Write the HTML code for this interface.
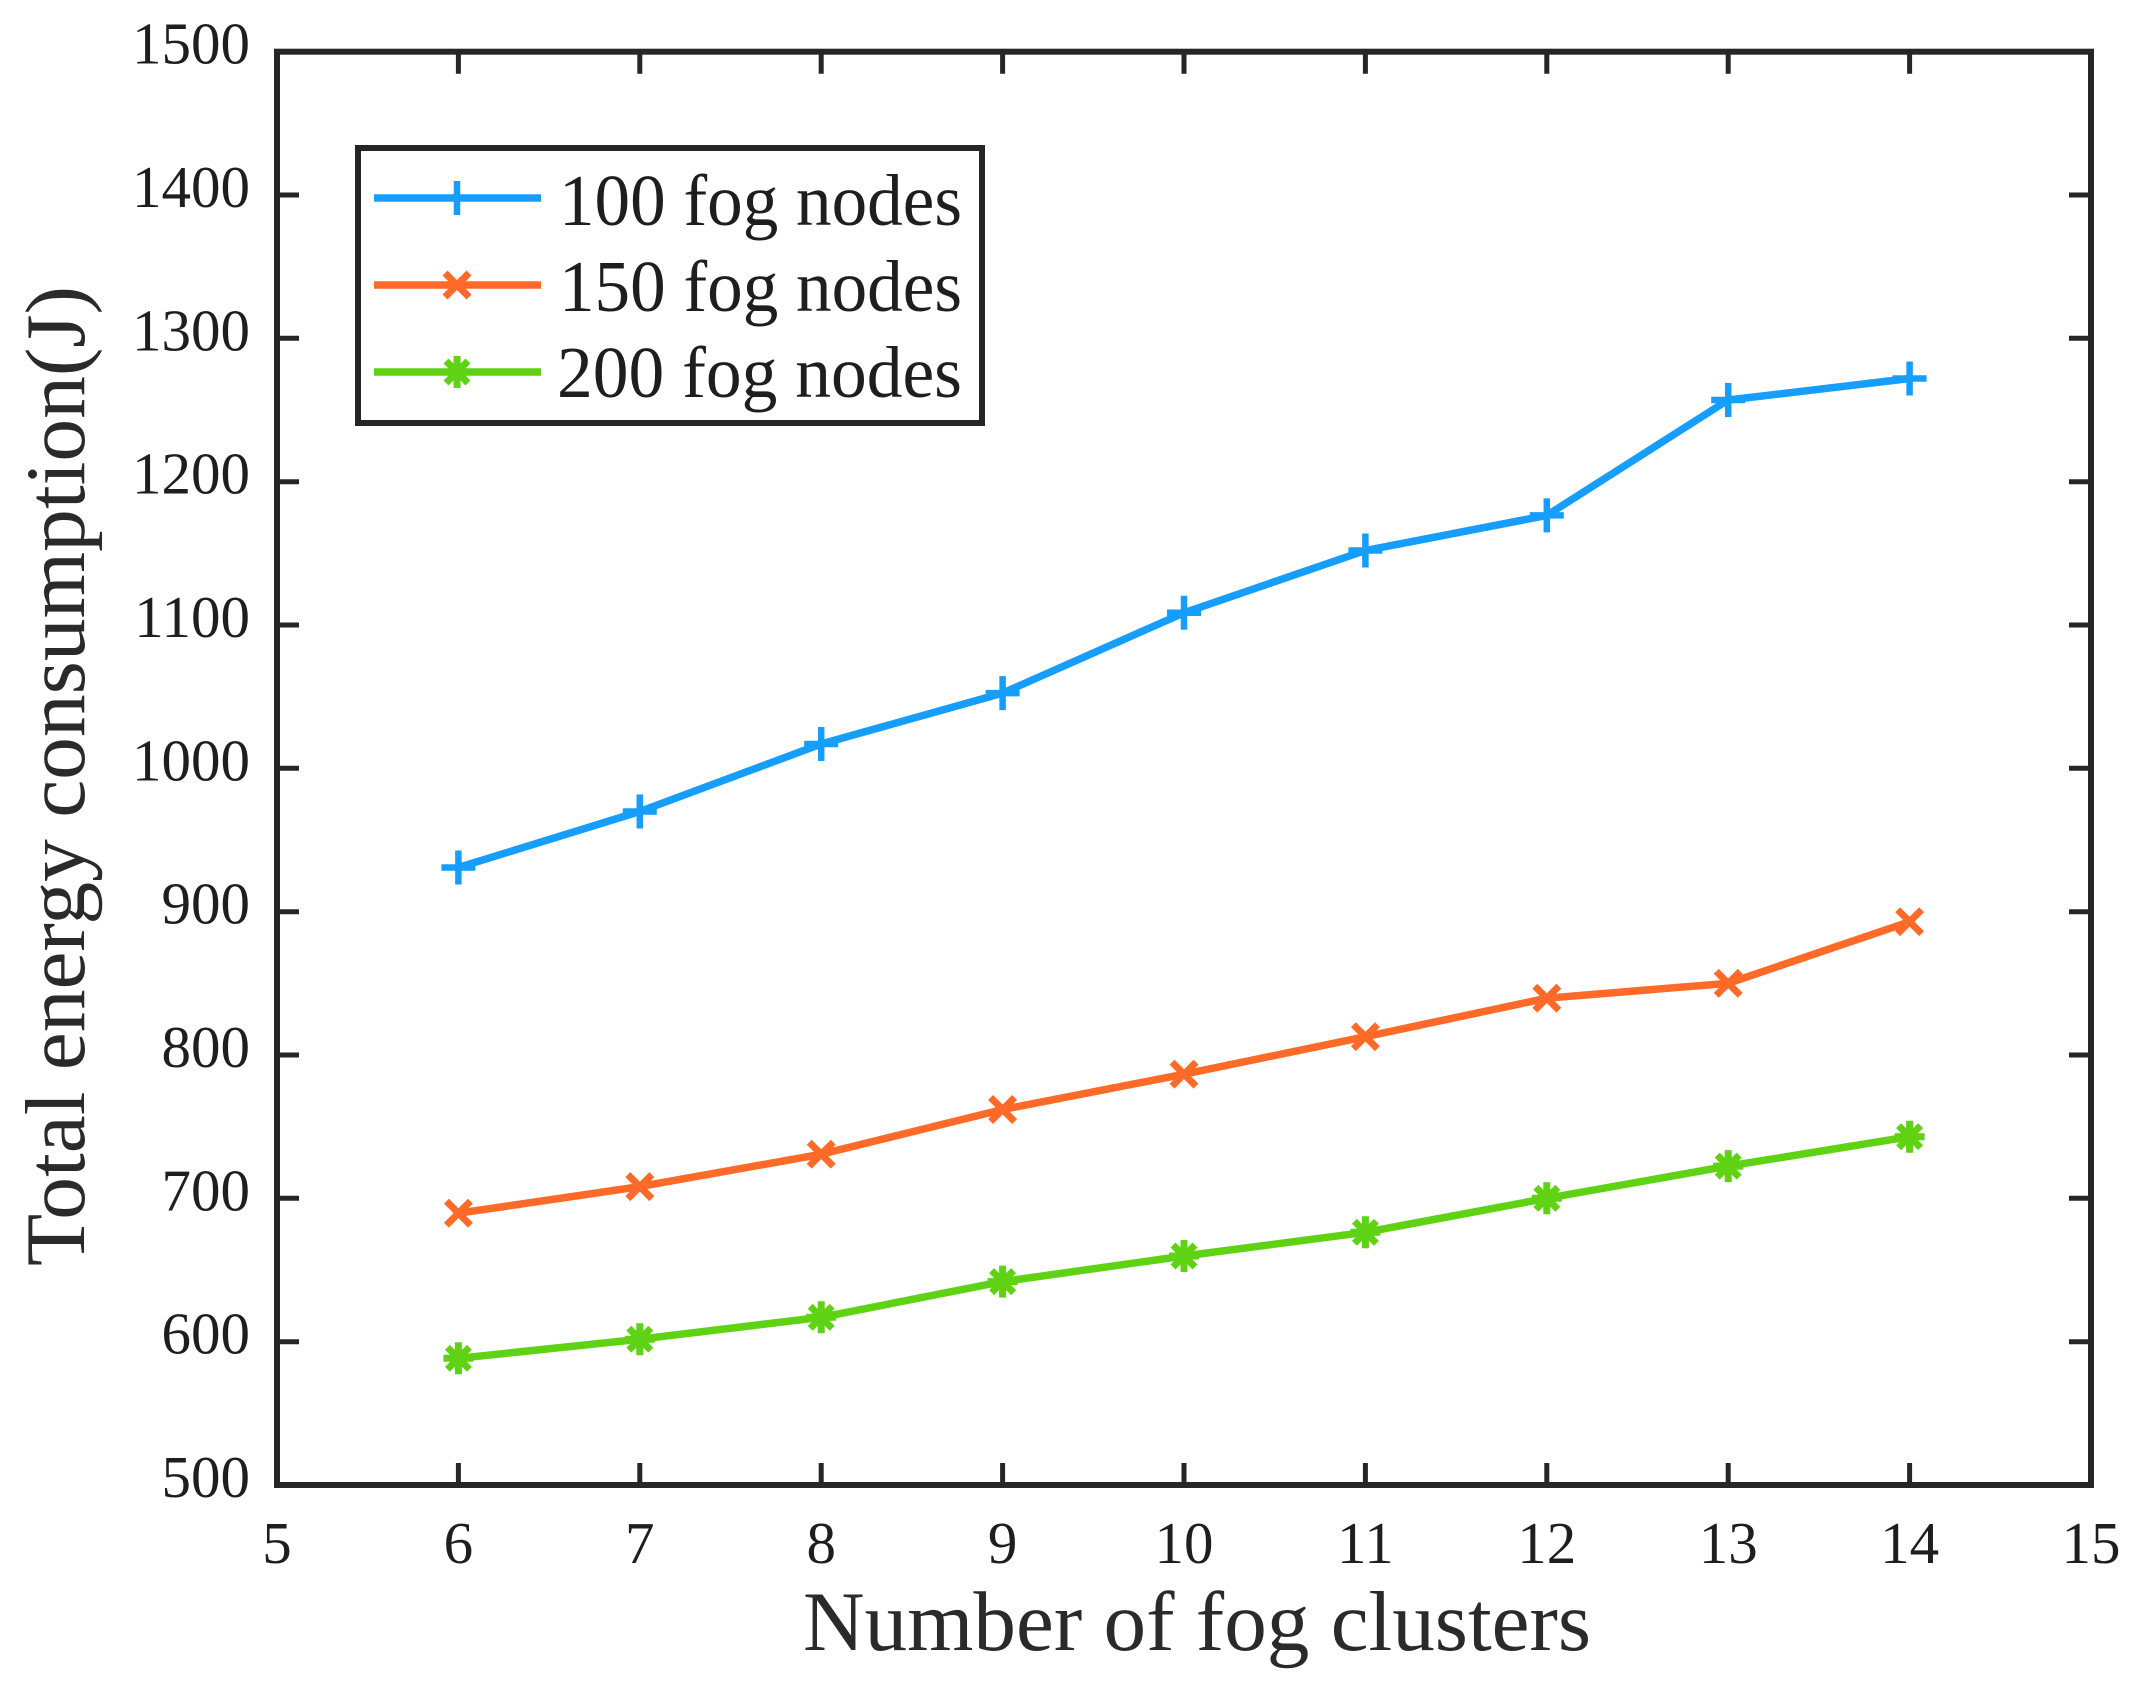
<!DOCTYPE html>
<html>
<head>
<meta charset="utf-8">
<style>
html,body{margin:0;padding:0;background:#fff;}
svg{display:block;}
text{font-family:"Liberation Serif",serif;fill:#1e1e1e;}
</style>
</head>
<body>
<svg width="2131" height="1688" viewBox="0 0 2131 1688" xmlns="http://www.w3.org/2000/svg">
<defs>
  <path id="mplus" d="M-17,0 H17 M0,-17 V17" stroke-width="6.5" fill="none"/>
  <path id="mx" d="M-12,-12 L12,12 M-12,12 L12,-12" stroke-width="7" fill="none"/>
  <path id="mstar" d="M-15,0 H15 M0,-16 V16 M-11,-11 L11,11 M-11,11 L11,-11" stroke-width="7" fill="none"/>
</defs>
<rect width="2131" height="1688" fill="#fff"/>

<!-- ticks -->
<g stroke="#262626" stroke-width="5" fill="none">
  <path d="M277,1341.7 h22 M277,1198.3 h22 M277,1055 h22 M277,911.7 h22 M277,768.3 h22 M277,625 h22 M277,481.7 h22 M277,338.3 h22 M277,195 h22"/>
  <path d="M2091,1341.7 h-22 M2091,1198.3 h-22 M2091,1055 h-22 M2091,911.7 h-22 M2091,768.3 h-22 M2091,625 h-22 M2091,481.7 h-22 M2091,338.3 h-22 M2091,195 h-22"/>
  <path d="M458.4,1485 v-22 M639.8,1485 v-22 M821.2,1485 v-22 M1002.6,1485 v-22 M1184,1485 v-22 M1365.4,1485 v-22 M1546.8,1485 v-22 M1728.2,1485 v-22 M1909.6,1485 v-22"/>
  <path d="M458.4,51.7 v22 M639.8,51.7 v22 M821.2,51.7 v22 M1002.6,51.7 v22 M1184,51.7 v22 M1365.4,51.7 v22 M1546.8,51.7 v22 M1728.2,51.7 v22 M1909.6,51.7 v22"/>
</g>

<!-- series -->
<g fill="none" stroke-width="7.5" stroke-linejoin="round" stroke-linecap="round">
  <polyline stroke="#169eff" points="458.4,867.5 639.8,811.5 821.2,744 1002.6,693.1 1184,612.8 1365.4,550.5 1546.8,515.4 1728.2,400 1909.6,378.5"/>
  <polyline stroke="#ff6a29" points="458.4,1213.2 639.8,1186.6 821.2,1154.2 1002.6,1109.5 1184,1074.2 1365.4,1036.7 1546.8,998.2 1728.2,983.3 1909.6,921.7"/>
  <polyline stroke="#5fd214" points="458.4,1358.3 639.8,1339.2 821.2,1317.3 1002.6,1281.6 1184,1256 1365.4,1232.3 1546.8,1198.3 1728.2,1166.1 1909.6,1136.7"/>
</g>
<g stroke="#169eff">
  <use href="#mplus" x="458.4" y="867.5"/><use href="#mplus" x="639.8" y="811.5"/><use href="#mplus" x="821.2" y="744"/>
  <use href="#mplus" x="1002.6" y="693.1"/><use href="#mplus" x="1184" y="612.8"/><use href="#mplus" x="1365.4" y="550.5"/>
  <use href="#mplus" x="1546.8" y="515.4"/><use href="#mplus" x="1728.2" y="400"/><use href="#mplus" x="1909.6" y="378.5"/>
</g>
<g stroke="#ff6a29">
  <use href="#mx" x="458.4" y="1213.2"/><use href="#mx" x="639.8" y="1186.6"/><use href="#mx" x="821.2" y="1154.2"/>
  <use href="#mx" x="1002.6" y="1109.5"/><use href="#mx" x="1184" y="1074.2"/><use href="#mx" x="1365.4" y="1036.7"/>
  <use href="#mx" x="1546.8" y="998.2"/><use href="#mx" x="1728.2" y="983.3"/><use href="#mx" x="1909.6" y="921.7"/>
</g>
<g stroke="#5fd214">
  <use href="#mstar" x="458.4" y="1358.3"/><use href="#mstar" x="639.8" y="1339.2"/><use href="#mstar" x="821.2" y="1317.3"/>
  <use href="#mstar" x="1002.6" y="1281.6"/><use href="#mstar" x="1184" y="1256"/><use href="#mstar" x="1365.4" y="1232.3"/>
  <use href="#mstar" x="1546.8" y="1198.3"/><use href="#mstar" x="1728.2" y="1166.1"/><use href="#mstar" x="1909.6" y="1136.7"/>
</g>

<!-- axes box -->
<rect x="277" y="51.7" width="1814" height="1433.3" fill="none" stroke="#262626" stroke-width="6"/>

<!-- legend -->
<rect x="358" y="148" width="624" height="275" fill="#fff" stroke="#262626" stroke-width="6"/>
<g stroke-width="7.5" fill="none">
  <line x1="374" y1="198" x2="541" y2="198" stroke="#169eff"/>
  <line x1="374" y1="285" x2="541" y2="285" stroke="#ff6a29"/>
  <line x1="374" y1="372" x2="541" y2="372" stroke="#5fd214"/>
</g>
<use href="#mplus" x="457" y="198" stroke="#169eff"/>
<use href="#mx" x="457" y="285" stroke="#ff6a29"/>
<use href="#mstar" x="457" y="372" stroke="#5fd214"/>
<g font-size="73">
  <text x="559" y="225" textLength="403" lengthAdjust="spacingAndGlyphs">100 fog nodes</text>
  <text x="559" y="311" textLength="403" lengthAdjust="spacingAndGlyphs">150 fog nodes</text>
  <text x="557" y="397" textLength="405" lengthAdjust="spacingAndGlyphs">200 fog nodes</text>
</g>

<!-- y tick labels -->
<g font-size="59" text-anchor="end" style="fill:#2a2a2a">
  <text x="250" y="1497">500</text>
  <text x="250" y="1353.7">600</text>
  <text x="250" y="1210.3">700</text>
  <text x="250" y="1067">800</text>
  <text x="250" y="923.7">900</text>
  <text x="250" y="780.3">1000</text>
  <text x="250" y="637">1100</text>
  <text x="250" y="493.7">1200</text>
  <text x="250" y="350.3">1300</text>
  <text x="250" y="207">1400</text>
  <text x="250" y="63.7">1500</text>
</g>

<!-- x tick labels -->
<g font-size="59" text-anchor="middle" style="fill:#2a2a2a">
  <text x="277" y="1563">5</text>
  <text x="458.4" y="1563">6</text>
  <text x="639.8" y="1563">7</text>
  <text x="821.2" y="1563">8</text>
  <text x="1002.6" y="1563">9</text>
  <text x="1184" y="1563">10</text>
  <text x="1365.4" y="1563">11</text>
  <text x="1546.8" y="1563">12</text>
  <text x="1728.2" y="1563">13</text>
  <text x="1909.6" y="1563">14</text>
  <text x="2091" y="1563">15</text>
</g>

<!-- axis labels -->
<text x="1197" y="1650" font-size="85" text-anchor="middle" textLength="788" lengthAdjust="spacingAndGlyphs" style="fill:#2a2a2a">Number of fog clusters</text>
<text transform="translate(84,776) rotate(-90)" x="0" y="0" font-size="85" text-anchor="middle" textLength="980" lengthAdjust="spacingAndGlyphs" style="fill:#2a2a2a">Total energy consumption(J)</text>
</svg>
</body>
</html>
